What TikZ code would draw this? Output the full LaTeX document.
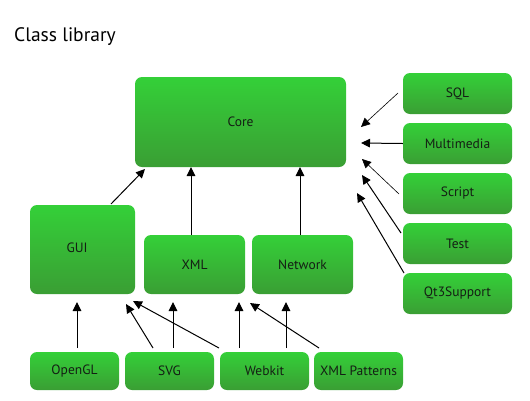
\documentclass[tikz,border=0pt]{standalone}
\usepackage{fontspec}
\setmainfont{PT Sans}
\usetikzlibrary{arrows.meta}
\definecolor{gtop}{RGB}{52,208,56}
\definecolor{gbot}{RGB}{58,158,52}
\definecolor{txt}{RGB}{20,30,20}
\tikzset{
  box/.style={rounded corners=7pt, top color=gtop, bottom color=gbot, draw=none,
    text=txt, font=\fontsize{13.5}{15}\selectfont, inner sep=0pt},
  arr/.style={draw=black, line width=1pt, -{Triangle[length=9pt,width=8.5pt]}},
  thinarr/.style={arr, line width=0.6pt}
}
\begin{document}
\begin{tikzpicture}[x=1pt,y=-1pt]
\useasboundingbox (0,0) rectangle (530,400);
\node[anchor=west, font=\fontsize{19.5}{22}\selectfont, text=black, inner sep=0pt] (title) at (14,37) {Class library};
% nodes
\node[box, minimum width=211pt, minimum height=90pt] (core) at (240.5,122) {Core};
\node[box, minimum width=109pt, minimum height=41pt] (sql) at (457.5,93.5) {SQL};
\node[box, minimum width=109pt, minimum height=41pt] (mm) at (457.5,143.5) {Multimedia};
\node[box, minimum width=109pt, minimum height=41pt] (script) at (457.5,193.5) {Script};
\node[box, minimum width=109pt, minimum height=41pt] (test) at (457.5,243.5) {Test};
\node[box, minimum width=109pt, minimum height=41pt] (qt3) at (457.5,293.5) {Qt3Support};
\node[box, minimum width=105pt, minimum height=89pt] (gui) at (82.5,249.5) {};
\node[text=txt, font=\fontsize{13.5}{15}\selectfont, inner sep=0pt] (guil) at (77,248) {GUI};
\node[box, minimum width=101pt, minimum height=59pt] (xml) at (194.5,264.5) {XML};
\node[box, minimum width=101pt, minimum height=59pt] (net) at (302.5,264.5) {Network};
\node[box, minimum width=89pt, minimum height=38pt] (opengl) at (74.5,371) {OpenGL};
\node[box, minimum width=89pt, minimum height=38pt] (svg) at (169.5,371) {SVG};
\node[box, minimum width=89pt, minimum height=38pt] (webkit) at (264.5,371) {Webkit};
\node[box, minimum width=89pt, minimum height=38pt] (xmlp) at (358.5,371) {XML Patterns};
% arrow end points
\coordinate (c1) at (145,169);
\coordinate (g1) at (111,204);
\coordinate (c2) at (191,167);
\coordinate (c3) at (300,167);
\coordinate (csql) at (361,127);
\coordinate (sqls) at (398,93);
\coordinate (cmm) at (361,143);
\coordinate (cscr) at (362,159);
\coordinate (scrs) at (399,194);
\coordinate (ctest) at (362,175);
\coordinate (tests) at (401,233);
\coordinate (cqt) at (357,193);
\coordinate (qts) at (404,273);
% top arrows
\draw[arr] (g1) -- (c1);
\draw[arr] (xml.north -| c2) -- (c2);
\draw[arr] (net.north -| c3) -- (c3);
\draw[thinarr] (sqls) -- (csql);
\draw[arr] (mm.west) -- (cmm);
\draw[thinarr] (scrs) -- (cscr);
\draw[arr] (tests) -- (ctest);
\draw[arr] (qts) -- (cqt);
% bottom arrows
\coordinate (og) at (77,348);
\coordinate (tg) at (77,302);
\coordinate (sv1) at (153,348);
\coordinate (tgui2) at (126,304);
\coordinate (sv2) at (173,348);
\coordinate (txml1) at (173,302);
\coordinate (wk1) at (219,348);
\coordinate (tgui3) at (133,301);
\coordinate (wk2) at (239,348);
\coordinate (txml2) at (239,302);
\coordinate (wk3) at (286,348);
\coordinate (tnet) at (286,302);
\coordinate (xp1) at (319,348);
\coordinate (txml3) at (250,303);
\draw[arr] (og) -- (tg);
\draw[arr] (sv1) -- (tgui2);
\draw[arr] (sv2) -- (txml1);
\draw[arr] (wk1) -- (tgui3);
\draw[arr] (wk2) -- (txml2);
\draw[arr] (wk3) -- (tnet);
\draw[arr] (xp1) -- (txml3);
\end{tikzpicture}
\end{document}
